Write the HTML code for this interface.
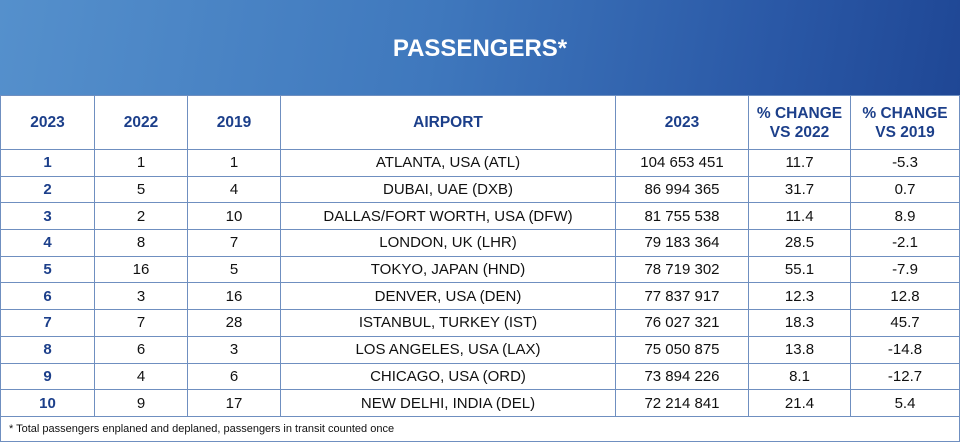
<!DOCTYPE html>
<html><head><style>
body{margin:0;width:960px;height:442px;overflow:hidden;background:#fff;font-family:"Liberation Sans",sans-serif;}
.hd{position:absolute;left:0;top:0;width:960px;height:95px;background:linear-gradient(100deg,#5590cc 0%,#3f78bd 45%,#2a58a6 80%,#1f4795 100%);}
.hd div{position:absolute;left:0;top:35px;width:960px;text-align:center;color:#fff;font-weight:bold;font-size:24px;}
table{position:absolute;left:0;top:95px;border-collapse:collapse;width:959px;table-layout:fixed;}
td{border:1px solid #6f8fc0;text-align:center;font-size:15px;color:#111;height:25.7px;padding:0;}
tr.h td{height:53px;color:#1c3f8a;font-weight:bold;font-size:15.5px;line-height:19px;}
td.r{color:#1c3f8a;font-weight:bold;}
td.f{text-align:left;font-size:11px;padding-left:8px;height:24px;}
</style></head><body>
<div class="hd"><div>PASSENGERS*</div></div>
<table>
<colgroup><col style="width:94px"><col style="width:93px"><col style="width:93px"><col style="width:335px"><col style="width:133px"><col style="width:102px"><col style="width:109px"></colgroup>
<tr class="h"><td>2023</td><td>2022</td><td>2019</td><td>AIRPORT</td><td>2023</td><td>% CHANGE<br>VS 2022</td><td>% CHANGE<br>VS 2019</td></tr>
<tr><td class="r">1</td><td>1</td><td>1</td><td>ATLANTA, USA (ATL)</td><td>104 653 451</td><td>11.7</td><td>-5.3</td></tr>
<tr><td class="r">2</td><td>5</td><td>4</td><td>DUBAI, UAE (DXB)</td><td>86 994 365</td><td>31.7</td><td>0.7</td></tr>
<tr><td class="r">3</td><td>2</td><td>10</td><td>DALLAS/FORT WORTH, USA (DFW)</td><td>81 755 538</td><td>11.4</td><td>8.9</td></tr>
<tr><td class="r">4</td><td>8</td><td>7</td><td>LONDON, UK (LHR)</td><td>79 183 364</td><td>28.5</td><td>-2.1</td></tr>
<tr><td class="r">5</td><td>16</td><td>5</td><td>TOKYO, JAPAN (HND)</td><td>78 719 302</td><td>55.1</td><td>-7.9</td></tr>
<tr><td class="r">6</td><td>3</td><td>16</td><td>DENVER, USA (DEN)</td><td>77 837 917</td><td>12.3</td><td>12.8</td></tr>
<tr><td class="r">7</td><td>7</td><td>28</td><td>ISTANBUL, TURKEY (IST)</td><td>76 027 321</td><td>18.3</td><td>45.7</td></tr>
<tr><td class="r">8</td><td>6</td><td>3</td><td>LOS ANGELES, USA (LAX)</td><td>75 050 875</td><td>13.8</td><td>-14.8</td></tr>
<tr><td class="r">9</td><td>4</td><td>6</td><td>CHICAGO, USA (ORD)</td><td>73 894 226</td><td>8.1</td><td>-12.7</td></tr>
<tr><td class="r">10</td><td>9</td><td>17</td><td>NEW DELHI, INDIA (DEL)</td><td>72 214 841</td><td>21.4</td><td>5.4</td></tr>
<tr><td class="f" colspan="7">* Total passengers enplaned and deplaned, passengers in transit counted once</td></tr>
</table>
</body></html>
